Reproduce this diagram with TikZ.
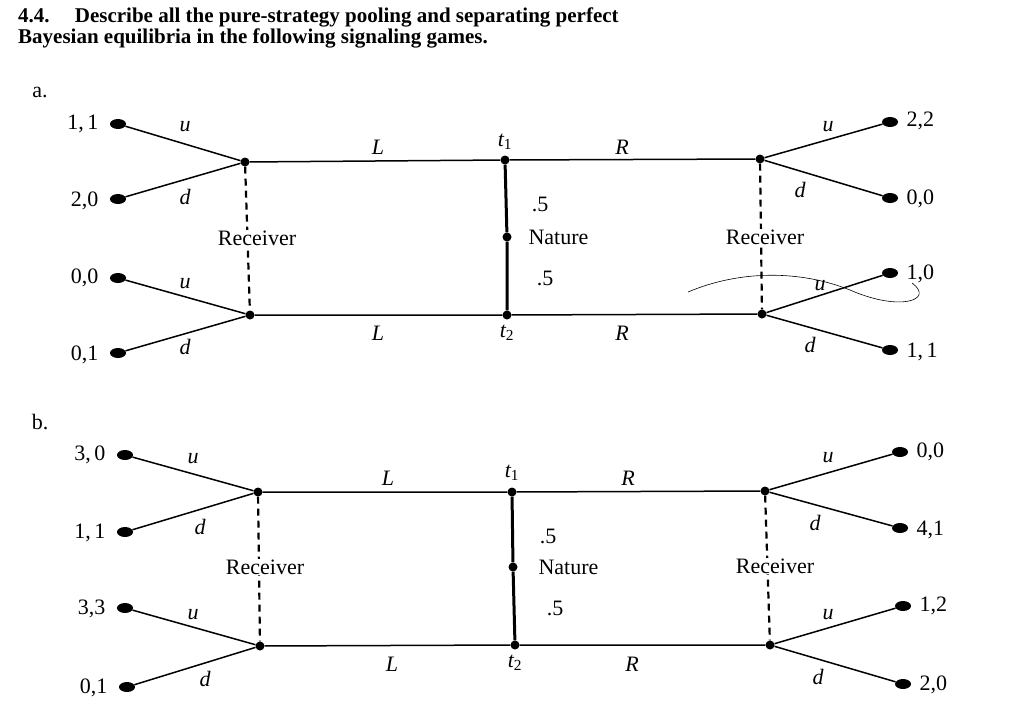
\documentclass[tikz,border=0pt]{standalone}
\usepackage{fontspec}
\usetikzlibrary{shapes.geometric}
\setmainfont{Liberation Serif}
\begin{document}
\begin{tikzpicture}[x=1pt,y=-1pt,
  dot/.style={circle,fill=black,inner sep=0pt,minimum width=9pt},
  term/.style={ellipse,fill=black,inner sep=0pt,minimum width=16pt,minimum height=10pt},
  lab/.style={font=\fontsize{22}{26}\selectfont},
  il/.style={font=\fontsize{22}{26}\selectfont\itshape},
  rec/.style={font=\fontsize{22}{26}\selectfont,fill=white,inner sep=1pt},
  edge/.style={line width=1.5pt},
  info/.style={line width=2.2pt,dash pattern=on 7pt off 5pt},
  nat/.style={line width=3pt}]
\useasboundingbox (0,0) rectangle (1024,712);
\node[anchor=north west,align=left,font=\fontsize{21}{21}\selectfont\bfseries,inner sep=0pt] (title) at (18,8)
 {4.4.\hspace{1.2em}Describe all the pure-strategy pooling and separating perfect\\Bayesian equilibria in the following signaling games.};
\node[lab] (la) at (40,92) {a.};
\node[lab] (lb) at (40,422) {b.};
% ---------- game a
\node[dot] (t1) at (505,160) {};
\node[dot] (t2) at (507,315) {};
\node[dot] (n) at (507,237) {};
\node[dot] (l1) at (245,162) {};
\node[dot] (l2) at (250,315) {};
\node[dot] (r1) at (760,159) {};
\node[dot] (r2) at (762,314) {};
\node[term] (a1) at (118,124) {};
\node[term] (a2) at (118,199) {};
\node[term] (a3) at (118,278) {};
\node[term] (a4) at (118,353) {};
\node[term] (a5) at (890,122) {};
\node[term] (a6) at (890,198) {};
\node[term] (a7) at (890,273) {};
\node[term] (a8) at (890,350) {};
\draw[edge] (l1)--(t1)--(r1); \draw[edge] (l2)--(t2)--(r2);
\draw[nat] (t1)--(n)--(t2);
\draw[info] (l1)--(l2); \draw[info] (r1)--(r2);
\draw[edge] (a1)--(l1)--(a2); \draw[edge] (a3)--(l2)--(a4);
\draw[edge] (a5)--(r1)--(a6); \draw[edge] (a7)--(r2)--(a8);
\node[lab,anchor=east] (pa1) at (102,124) {1,\,1};
\node[lab,anchor=east] (pa2) at (102,201) {2,0};
\node[lab,anchor=east] (pa3) at (102,278) {0,0};
\node[lab,anchor=east] (pa4) at (102,355) {0,1};
\node[lab,anchor=west] (pa5) at (903,121) {2,2};
\node[lab,anchor=west] (pa6) at (903,199) {0,0};
\node[lab,anchor=west] (pa7) at (903,274) {1,0};
\node[lab,anchor=west] (pa8) at (903,352) {1,\,1};
\node[il] (ua1) at (185,127) {u}; \node[il] (da1) at (185,197) {d};
\node[il] (ua2) at (185,284) {u}; \node[il] (da2) at (185,347) {d};
\node[il] (ua3) at (828,127) {u}; \node[il] (da3) at (800,190) {d};
\node[il] (ua4) at (820,286) {u}; \node[il] (da4) at (810,345) {d};
\node[il] (La1) at (378,147) {L}; \node[il] (La2) at (378,333) {L};
\node[il] (Ra1) at (622,147) {R}; \node[il] (Ra2) at (622,333) {R};
\node[il] (ta1) at (505,142) {t\textsubscript{\upshape 1}};
\node[il] (ta2) at (507,333) {t\textsubscript{\upshape 2}};
\node[lab] (ha1) at (540,204) {.5}; \node[lab] (ha2) at (545,278) {.5};
\node[lab,anchor=west] (na) at (525,237) {Nature};
\node[rec] (reca1) at (257,238) {Receiver};
\node[rec] (reca2) at (765,237) {Receiver};
\coordinate (s1) at (688,292);
\coordinate (s2) at (912,283);
\draw[line width=0.6pt] (s1) .. controls (740,270) and (800,270) .. (850,290) .. controls (900,312) and (935,300) .. (s2);
% ---------- game b
\node[dot] (u1) at (512,492) {};
\node[dot] (u2) at (515,645) {};
\node[dot] (nb) at (513,567) {};
\node[dot] (m1) at (258,492) {};
\node[dot] (m2) at (260,646) {};
\node[dot] (q1) at (765,491) {};
\node[dot] (q2) at (770,645) {};
\node[term] (b1) at (125,455) {};
\node[term] (b2) at (125,532) {};
\node[term] (b3) at (125,608) {};
\node[term] (b4) at (127,687) {};
\node[term] (b5) at (900,452) {};
\node[term] (b6) at (900,528) {};
\node[term] (b7) at (903,606) {};
\node[term] (b8) at (903,684) {};
\draw[edge] (m1)--(u1)--(q1); \draw[edge] (m2)--(u2)--(q2);
\draw[nat] (u1)--(nb)--(u2);
\draw[info] (m1)--(m2); \draw[info] (q1)--(q2);
\draw[edge] (b1)--(m1)--(b2); \draw[edge] (b3)--(m2)--(b4);
\draw[edge] (b5)--(q1)--(b6); \draw[edge] (b7)--(q2)--(b8);
\node[lab,anchor=east] (pb1) at (109,455) {3,\,0};
\node[lab,anchor=east] (pb2) at (109,533) {1,\,1};
\node[lab,anchor=east] (pb3) at (109,609) {3,3};
\node[lab,anchor=east] (pb4) at (111,688) {0,1};
\node[lab,anchor=west] (pb5) at (913,452) {0,0};
\node[lab,anchor=west] (pb6) at (913,530) {4,1};
\node[lab,anchor=west] (pb7) at (916,606) {1,2};
\node[lab,anchor=west] (pb8) at (916,685) {2,0};
\node[il] (ub1) at (193,459) {u}; \node[il] (db1) at (200,527) {d};
\node[il] (ub2) at (193,615) {u}; \node[il] (db2) at (205,679) {d};
\node[il] (ub3) at (828,458) {u}; \node[il] (db3) at (815,523) {d};
\node[il] (ub4) at (828,615) {u}; \node[il] (db4) at (818,677) {d};
\node[il] (Lb1) at (388,478) {L}; \node[il] (Lb2) at (392,664) {L};
\node[il] (Rb1) at (628,478) {R}; \node[il] (Rb2) at (632,664) {R};
\node[il] (tb1) at (512,473) {t\textsubscript{\upshape 1}};
\node[il] (tb2) at (515,663) {t\textsubscript{\upshape 2}};
\node[lab] (hb1) at (548,536) {.5}; \node[lab] (hb2) at (555,608) {.5};
\node[lab,anchor=west] (nbl) at (535,567) {Nature};
\node[rec] (recb1) at (265,567) {Receiver};
\node[rec] (recb2) at (775,566) {Receiver};
\end{tikzpicture}
\end{document}
